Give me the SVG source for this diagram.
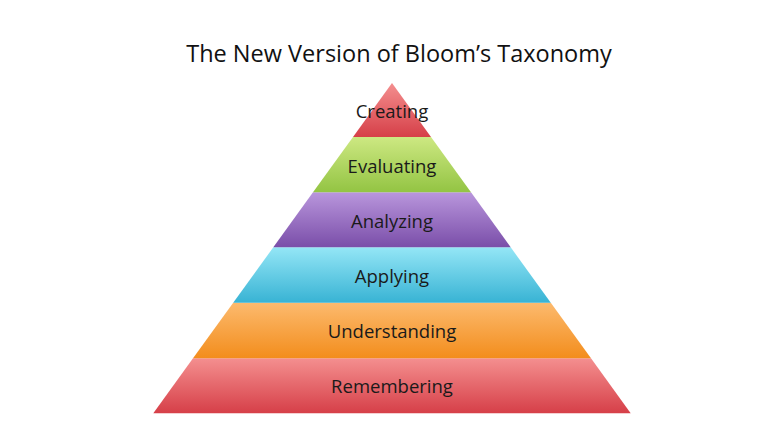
<svg xmlns="http://www.w3.org/2000/svg" width="768" height="433" viewBox="0 0 768 433">
<defs>
<linearGradient id="gRed" x1="0" y1="0" x2="0" y2="1"><stop offset="0" stop-color="#f48f8f"/><stop offset="1" stop-color="#d63f48"/></linearGradient>
<linearGradient id="gGreen" x1="0" y1="0" x2="0" y2="1"><stop offset="0" stop-color="#cde882"/><stop offset="1" stop-color="#93c443"/></linearGradient>
<linearGradient id="gPurple" x1="0" y1="0" x2="0" y2="1"><stop offset="0" stop-color="#b996dc"/><stop offset="1" stop-color="#7a4ea9"/></linearGradient>
<linearGradient id="gCyan" x1="0" y1="0" x2="0" y2="1"><stop offset="0" stop-color="#94e6f6"/><stop offset="1" stop-color="#38b3d4"/></linearGradient>
<linearGradient id="gOrange" x1="0" y1="0" x2="0" y2="1"><stop offset="0" stop-color="#fcba6e"/><stop offset="1" stop-color="#f38d1c"/></linearGradient>
</defs>
<style>
.lbl{font-family:"Open Sans","Liberation Sans",sans-serif;font-size:18.5px;fill:#1a1a1a;text-anchor:middle}
.title{font-family:"Open Sans","Liberation Sans",sans-serif;font-size:23.5px;fill:#111;text-anchor:middle}
</style>
<rect width="768" height="433" fill="#ffffff"/>
<text class="title" x="399" y="62">The New Version of Bloom’s Taxonomy</text>
<g id="remembering"><polygon points="193,358.3 591,358.3 630.7,413.3 153.3,413.3" fill="url(#gRed)"/><text class="lbl" x="392" y="393">Remembering</text></g>
<g id="understanding"><polygon points="233.2,302.7 550.8,302.7 591,358.3 193,358.3" fill="url(#gOrange)"/><text class="lbl" x="392" y="338">Understanding</text></g>
<g id="applying"><polygon points="273.3,247.3 510.7,247.3 550.8,302.7 233.2,302.7" fill="url(#gCyan)"/><text class="lbl" x="392" y="283">Applying</text></g>
<g id="analyzing"><polygon points="313,192.3 471,192.3 510.7,247.3 273.3,247.3" fill="url(#gPurple)"/><text class="lbl" x="392" y="228">Analyzing</text></g>
<g id="evaluating"><polygon points="353,137 431,137 471,192.3 313,192.3" fill="url(#gGreen)"/><text class="lbl" x="392" y="173">Evaluating</text></g>
<g id="creating"><polygon points="392,83 431,137 353,137" fill="url(#gRed)"/><text class="lbl" x="392" y="118">Creating</text></g>
<g id="connectors"/>
</svg>
